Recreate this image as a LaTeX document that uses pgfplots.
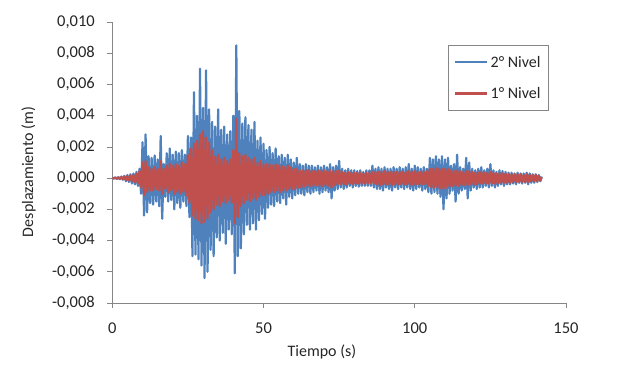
\documentclass[border=0pt]{standalone}
\usepackage{fontspec}
\setmainfont{Carlito}
\usepackage{pgfplots}
\pgfplotsset{compat=1.18}
\definecolor{blueS}{HTML}{4F81BD}
\definecolor{redS}{HTML}{C0504D}
\definecolor{axgray}{HTML}{868686}
\definecolor{txt}{HTML}{262626}
\begin{document}
\begin{tikzpicture}
\path[use as bounding box] (-112.3pt,-66pt) rectangle (527.7pt,303pt);
\begin{axis}[
  name=ax, at={(0pt,0pt)}, anchor=south west,
  scale only axis, width=453.7pt, height=281pt,
  xmin=0, xmax=150, ymin=-8, ymax=10,
  axis x line*=bottom, axis y line*=left,
  axis line style={draw=axgray, line width=0.75pt},
  xtick={0,50,100,150}, xticklabels={0,50,100,150},
  ytick={-8,-6,-4,-2,0,2,4,6,8,10},
  yticklabels={{-0,008},{-0,006},{-0,004},{-0,002},{0,000},{0,002},{0,004},{0,006},{0,008},{0,010}},
  tick align=outside, major tick length=5pt,
  tick style={draw=axgray, line width=0.75pt},
  every tick label/.append style={font=\fontsize{16.5}{17}\selectfont, text=txt},
  xticklabel style={anchor=north, yshift=-11pt},
  yticklabel style={anchor=east, xshift=-9pt},
  xlabel={Tiempo (s)},
  ylabel={Desplazamiento (m)},
  label style={font=\fontsize{16}{16}\selectfont, text=txt},
  xlabel style={at={(axis description cs:0.462,-0.1744)}, anchor=center},
  ylabel style={at={(axis description cs:-0.1847,0.466)}, anchor=center},
  legend style={at={(axis description cs:0.7406,0.918)}, anchor=north west,
    draw=axgray, line width=0.75pt, font=\fontsize{16}{16}\selectfont, text=txt,
    inner xsep=5.5pt, inner ysep=8.5pt, row sep=14.5pt},
  legend cell align=left,
  legend image code/.code={\draw[#1, line width=2.5pt] (0pt,0pt) -- (32pt,0pt);},
]
\addplot[blueS, line width=2.2pt, line join=round] coordinates {
(0,0.02)(0.5,-0.03)(1,0.05)(1.5,-0.05)(2,0.06)(2.5,-0.07)(3,0.1)(3.5,-0.1)(4,0.15)(4.5,-0.2)
(5,0.2)(5.5,-0.25)(6,0.25)(6.5,-0.35)(7,0.3)(7.5,-0.4)(8,0.4)(8.5,-0.5)(9,0.6)(9.5,-1.0)
(10,2.3)(10.5,-2.4)(11,2.8)(11.5,-2.2)(12,1.4)(12.5,-1.6)(13,1.3)(13.5,-1.7)(14,1.45)(14.5,-1.5)
(15,1.2)(15.5,-1.8)(16,2.7)(16.5,-2.6)(17,0.9)(17.5,-1.2)(18,1.6)(18.5,-1.5)(19,1.9)(19.5,-1.4)
(20,1.5)(20.5,-2.0)(21,1.7)(21.5,-1.6)(22,1.6)(22.5,-1.9)(23,1.8)(23.5,-1.5)(24,1.5)(24.5,-1.8)
(25,2.7)(25.5,-2.5)(26,2.6)(26.5,-5.0)(27,5.5)(27.5,-4.9)(28,4.0)(28.5,-5.2)(29,7.0)(29.5,-5.6)
(30,4.5)(30.5,-6.4)(31,6.9)(31.5,-6.0)(32,4.4)(32.5,-4.6)(33,3.6)(33.5,-5.0)(34,3.3)(34.5,-3.8)
(35,4.4)(35.5,-4.0)(36,3.1)(36.5,-3.5)(37,3.3)(37.5,-4.2)(38,2.8)(38.5,-3.3)(39,3.0)(39.5,-3.6)
(40,4.0)(40.5,-6.1)(41,8.5)(41.5,-5.0)(42,4.3)(42.5,-4.5)(43,3.5)(43.5,-3.6)(44,3.9)(44.5,-3.0)
(45,3.4)(45.5,-3.3)(46,3.1)(46.5,-2.9)(47,3.6)(47.5,-3.3)(48,2.4)(48.5,-2.7)(49,2.6)(49.5,-2.3)
(50,2.2)(50.5,-2.6)(51,1.8)(51.5,-1.9)(52,2.0)(52.5,-1.7)(53,1.6)(53.5,-1.8)(54,1.9)(54.5,-1.5)
(55,1.4)(55.5,-1.6)(56,1.5)(56.5,-1.3)(57,1.3)(57.5,-1.7)(58,1.5)(58.5,-1.2)(59,1.2)(59.5,-1.3)
(60,1.0)(60.5,-1.1)(61,1.3)(61.5,-1.0)(62,0.9)(62.5,-1.0)(63,0.8)(63.5,-1.1)(64,0.9)(64.5,-0.9)
(65,0.8)(65.5,-1.0)(66,0.8)(66.5,-0.9)(67,0.7)(67.5,-0.8)(68,0.8)(68.5,-1.0)(69,0.7)(69.5,-0.9)
(70,0.8)(70.5,-0.8)(71,0.7)(71.5,-0.9)(72,0.9)(72.5,-1.3)(73,0.7)(73.5,-0.8)(74,0.8)(74.5,-0.7)
(75,1.1)(75.5,-0.6)(76,0.6)(76.5,-0.7)(77,0.5)(77.5,-0.6)(78,0.6)(78.5,-0.5)(79,0.5)(79.5,-0.6)
(80,0.5)(80.5,-0.5)(81,0.45)(81.5,-0.55)(82,0.5)(82.5,-0.5)(83,0.4)(83.5,-0.5)(84,0.5)(84.5,-0.5)
(85,0.5)(85.5,-0.5)(86,0.8)(86.5,-0.6)(87,0.6)(87.5,-0.7)(88,0.7)(88.5,-0.7)(89,0.6)(89.5,-0.8)
(90,0.7)(90.5,-0.6)(91,0.6)(91.5,-0.7)(92,0.6)(92.5,-0.8)(93,0.7)(93.5,-0.6)(94,0.6)(94.5,-0.7)
(95,0.7)(95.5,-0.6)(96,0.6)(96.5,-0.7)(97,0.7)(97.5,-0.6)(98,0.9)(98.5,-0.7)(99,0.6)(99.5,-0.8)
(100,0.8)(100.5,-0.7)(101,0.7)(101.5,-0.6)(102,0.6)(102.5,-0.8)(103,0.7)(103.5,-0.7)(104,0.6)(104.5,-0.9)
(105,1.3)(105.5,-1.0)(106,1.2)(106.5,-0.9)(107,1.4)(107.5,-1.0)(108,1.2)(108.5,-1.2)(109,1.4)(109.5,-2.0)
(110,1.2)(110.5,-1.3)(111,1.3)(111.5,-1.0)(112,0.8)(112.5,-0.8)(113,0.9)(113.5,-1.5)(114,1.5)(114.5,-1.0)
(115,0.7)(115.5,-0.8)(116,0.6)(116.5,-0.7)(117,1.3)(117.5,-1.3)(118,1.0)(118.5,-0.8)(119,0.6)(119.5,-0.6)
(120,0.5)(120.5,-0.7)(121,0.6)(121.5,-0.6)(122,0.7)(122.5,-0.6)(123,0.5)(123.5,-0.5)(124,0.6)(124.5,-0.6)
(125,0.9)(125.5,-0.5)(126,0.5)(126.5,-0.6)(127,0.4)(127.5,-0.5)(128,0.5)(128.5,-0.4)(129,0.45)(129.5,-0.5)
(130,0.4)(130.5,-0.4)(131,0.35)(131.5,-0.4)(132,0.35)(132.5,-0.35)(133,0.3)(133.5,-0.4)(134,0.35)(134.5,-0.3)
(135,0.3)(135.5,-0.35)(136,0.3)(136.5,-0.3)(137,0.35)(137.5,-0.4)(138,0.3)(138.5,-0.3)(139,0.25)(139.5,-0.3)
(140,0.25)(140.5,-0.25)(141,0.2)(141.5,-0.2)(142,0.1)
};
\addlegendentry{2° Nivel}
\addplot[redS, line width=2.2pt, line join=round] coordinates {
(0,0.02)(0.5,-0.02)(1,0.03)(1.5,-0.04)(2,0.05)(2.5,-0.05)(3,0.07)(3.5,-0.08)(4,0.1)(4.5,-0.12)
(5,0.13)(5.5,-0.15)(6,0.17)(6.5,-0.2)(7,0.2)(7.5,-0.25)(8,0.3)(8.5,-0.35)(9,0.45)(9.5,-0.6)
(10,1.0)(10.5,-1.1)(11,1.1)(11.5,-0.9)(12,0.7)(12.5,-0.8)(13,0.6)(13.5,-0.8)(14,0.7)(14.5,-0.7)
(15,0.6)(15.5,-0.8)(16,1.1)(16.5,-1.0)(17,0.6)(17.5,-0.7)(18,0.8)(18.5,-0.9)(19,0.9)(19.5,-0.8)
(20,0.8)(20.5,-1.0)(21,0.9)(21.5,-0.9)(22,0.8)(22.5,-1.0)(23,1.0)(23.5,-0.9)(24,0.9)(24.5,-1.1)
(25,1.5)(25.5,-1.6)(26,1.9)(26.5,-2.4)(27,2.2)(27.5,-2.6)(28,2.4)(28.5,-2.7)(29,2.8)(29.5,-2.9)
(30,3.0)(30.5,-2.8)(31,2.6)(31.5,-2.6)(32,2.3)(32.5,-2.2)(33,1.8)(33.5,-2.0)(34,1.4)(34.5,-1.7)
(35,1.5)(35.5,-1.8)(36,1.2)(36.5,-1.5)(37,1.3)(37.5,-1.6)(38,1.1)(38.5,-1.4)(39,1.2)(39.5,-1.6)
(40,1.8)(40.5,-2.9)(41,3.8)(41.5,-2.5)(42,1.6)(42.5,-1.8)(43,1.4)(43.5,-1.6)(44,1.5)(44.5,-1.4)
(45,1.3)(45.5,-1.5)(46,1.2)(46.5,-1.3)(47,1.3)(47.5,-1.4)(48,1.0)(48.5,-1.2)(49,1.1)(49.5,-1.1)
(50,0.9)(50.5,-1.1)(51,0.9)(51.5,-1.0)(52,0.9)(52.5,-0.9)(53,0.8)(53.5,-0.9)(54,0.9)(54.5,-0.8)
(55,0.8)(55.5,-0.9)(56,0.8)(56.5,-0.8)(57,0.7)(57.5,-0.8)(58,0.8)(58.5,-0.7)(59,0.7)(59.5,-0.7)
(60,0.6)(60.5,-0.7)(61,0.6)(61.5,-0.6)(62,0.5)(62.5,-0.6)(63,0.5)(63.5,-0.55)(64,0.5)(64.5,-0.5)
(65,0.5)(65.5,-0.5)(66,0.45)(66.5,-0.5)(67,0.45)(67.5,-0.45)(68,0.5)(68.5,-0.5)(69,0.45)(69.5,-0.5)
(70,0.5)(70.5,-0.45)(71,0.45)(71.5,-0.5)(72,0.5)(72.5,-0.6)(73,0.45)(73.5,-0.45)(74,0.45)(74.5,-0.4)
(75,0.5)(75.5,-0.4)(76,0.4)(76.5,-0.4)(77,0.35)(77.5,-0.4)(78,0.4)(78.5,-0.35)(79,0.35)(79.5,-0.4)
(80,0.35)(80.5,-0.35)(81,0.35)(81.5,-0.35)(82,0.35)(82.5,-0.35)(83,0.3)(83.5,-0.35)(84,0.35)(84.5,-0.35)
(85,0.35)(85.5,-0.35)(86,0.4)(86.5,-0.35)(87,0.4)(87.5,-0.4)(88,0.4)(88.5,-0.45)(89,0.4)(89.5,-0.4)
(90,0.45)(90.5,-0.4)(91,0.4)(91.5,-0.4)(92,0.4)(92.5,-0.45)(93,0.4)(93.5,-0.4)(94,0.4)(94.5,-0.4)
(95,0.4)(95.5,-0.4)(96,0.4)(96.5,-0.4)(97,0.4)(97.5,-0.4)(98,0.45)(98.5,-0.4)(99,0.4)(99.5,-0.45)
(100,0.45)(100.5,-0.4)(101,0.4)(101.5,-0.4)(102,0.4)(102.5,-0.4)(103,0.4)(103.5,-0.4)(104,0.45)(104.5,-0.5)
(105,0.6)(105.5,-0.6)(106,0.6)(106.5,-0.6)(107,0.65)(107.5,-0.6)(108,0.6)(108.5,-0.65)(109,0.6)(109.5,-0.7)
(110,0.6)(110.5,-0.6)(111,0.6)(111.5,-0.55)(112,0.5)(112.5,-0.5)(113,0.45)(113.5,-0.5)(114,0.5)(114.5,-0.5)
(115,0.45)(115.5,-0.45)(116,0.4)(116.5,-0.45)(117,0.45)(117.5,-0.45)(118,0.45)(118.5,-0.4)(119,0.4)(119.5,-0.4)
(120,0.35)(120.5,-0.4)(121,0.35)(121.5,-0.35)(122,0.4)(122.5,-0.35)(123,0.35)(123.5,-0.35)(124,0.35)(124.5,-0.35)
(125,0.4)(125.5,-0.35)(126,0.35)(126.5,-0.35)(127,0.3)(127.5,-0.35)(128,0.3)(128.5,-0.3)(129,0.3)(129.5,-0.3)
(130,0.3)(130.5,-0.3)(131,0.25)(131.5,-0.3)(132,0.25)(132.5,-0.25)(133,0.25)(133.5,-0.25)(134,0.25)(134.5,-0.25)
(135,0.25)(135.5,-0.25)(136,0.2)(136.5,-0.25)(137,0.25)(137.5,-0.25)(138,0.2)(138.5,-0.2)(139,0.2)(139.5,-0.2)
(140,0.2)(140.5,-0.2)(141,0.15)(141.5,-0.15)(142,0.05)
};
\addlegendentry{1° Nivel}
\end{axis}
\end{tikzpicture}
\end{document}
